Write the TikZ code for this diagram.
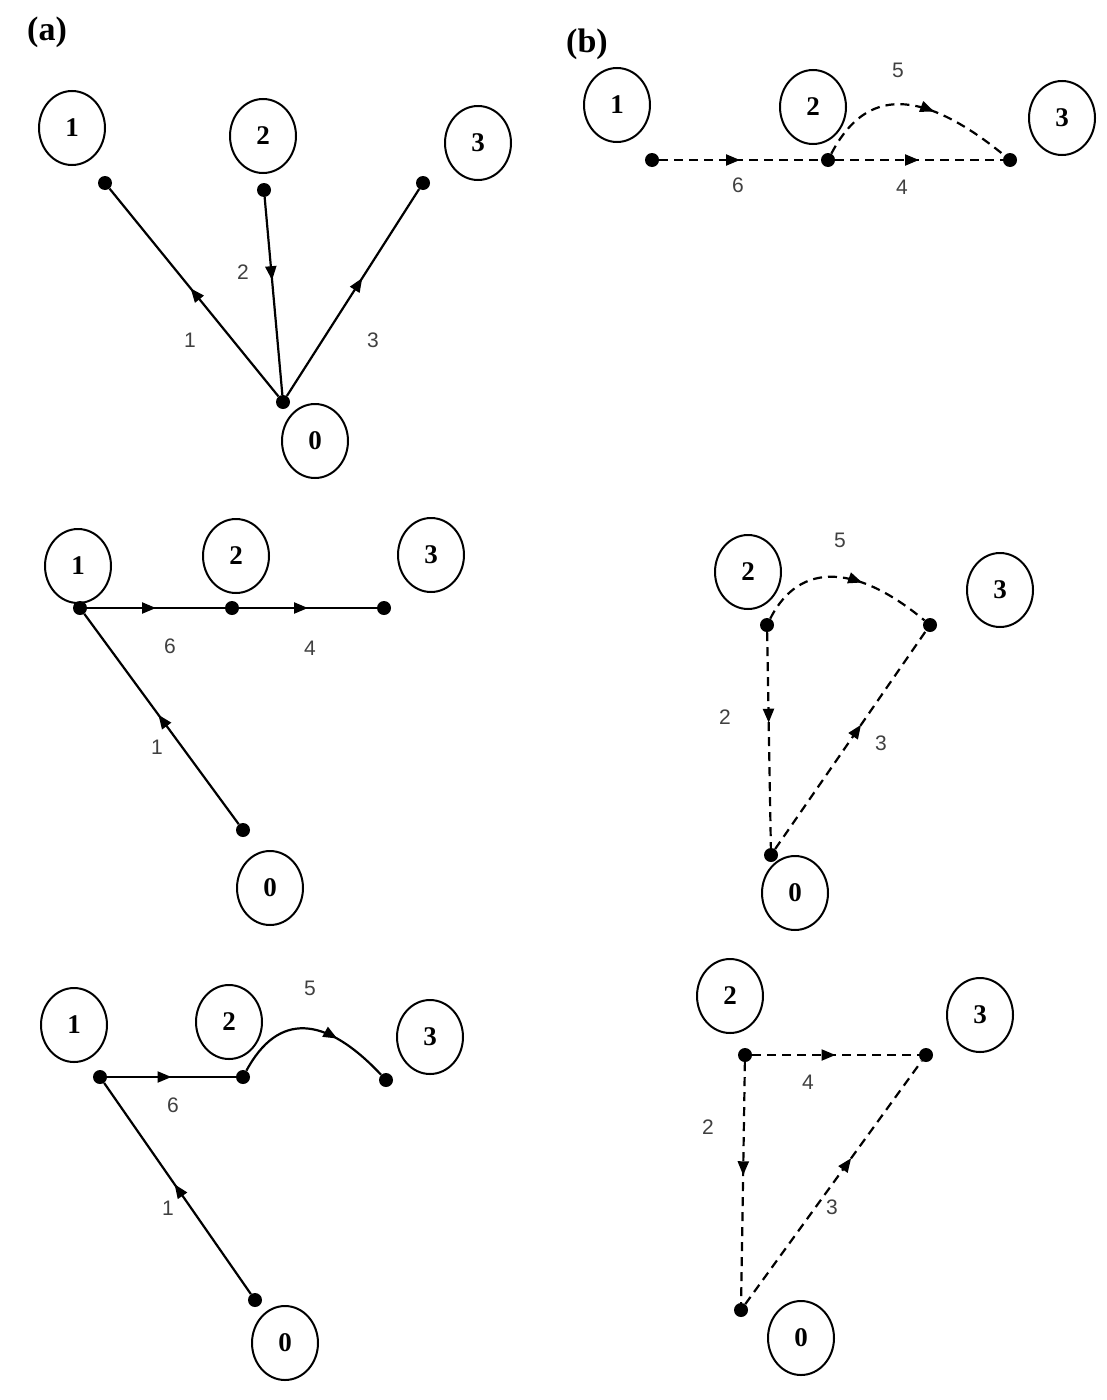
\documentclass[tikz,border=0pt]{standalone}
\usepackage{fontspec}
\setmainfont{Liberation Serif}
\newfontfamily\lblfont{Liberation Sans}
\usetikzlibrary{shapes.geometric,decorations.markings,arrows.meta}
\begin{document}
\begin{tikzpicture}[x=1pt,y=-1pt,
  state/.style={draw,line width=2pt,ellipse,minimum width=66pt,minimum height=74pt,inner sep=0pt,font=\fontsize{27}{27}\selectfont\bfseries},
  dot/.style={circle,fill=black,minimum size=14pt,inner sep=0pt},
  edge/.style={line width=2.2pt},
  dashedge/.style={line width=2.2pt,dash pattern=on 9pt off 6pt},
  lbl/.style={font=\lblfont\fontsize{21}{21}\selectfont,text=black!75,inner sep=0pt},
  midarr/.style={postaction={decorate},decoration={markings,mark=at position #1 with {\arrow{Triangle[length=14pt,width=11pt]}}}},
  panel/.style={font=\fontsize{34}{34}\selectfont\bfseries,inner sep=0pt}]
\fill[white] (0,0) rectangle (1107,1400);
\useasboundingbox (0,0) rectangle (1107,1400);

% ---------- (a) top ----------
\node[panel] (pa) at (47,32) {(a)};
\node[state] (A1c1) at (72,128) {1};
\node[state] (A1c2) at (263,136) {2};
\node[state] (A1c3) at (478,143) {3};
\node[state] (A1c0) at (315,441) {0};
\node[dot] (A1d1) at (105,183) {};
\node[dot] (A1d2) at (264,190) {};
\node[dot] (A1d3) at (423,183) {};
\node[dot] (A1d0) at (283,402) {};
\draw[edge,midarr=0.52] (A1d0) -- (A1d1);
\draw[edge,midarr=0.42] (A1d2) -- (A1d0);
\draw[edge,midarr=0.57] (A1d0) -- (A1d3);
\node[lbl] (A1l1) at (190,340) {1};
\node[lbl] (A1l2) at (243,272) {2};
\node[lbl] (A1l3) at (373,340) {3};

% ---------- (b) top ----------
\node[panel] (pb) at (587,44) {(b)};
\node[state] (B1c1) at (617,105) {1};
\node[state] (B1c2) at (813,107) {2};
\node[state] (B1c3) at (1062,118) {3};
\node[dot] (B1d1) at (652,160) {};
\node[dot] (B1d2) at (828,160) {};
\node[dot] (B1d3) at (1010,160) {};
\draw[dashedge,midarr=0.5] (B1d1) -- (B1d2);
\draw[dashedge,midarr=0.5] (B1d2) -- (B1d3);
\draw[dashedge,midarr=0.6] (B1d2) .. controls +(34,-65) and +(-98,-80) .. (B1d3);
\node[lbl] (B1l6) at (738,185) {6};
\node[lbl] (B1l4) at (902,187) {4};
\node[lbl] (B1l5) at (898,70) {5};

% ---------- (a) middle ----------
\node[state] (A2c1) at (78,566) {1};
\node[state] (A2c2) at (236,556) {2};
\node[state] (A2c3) at (431,555) {3};
\node[state] (A2c0) at (270,888) {0};
\node[dot] (A2d1) at (80,608) {};
\node[dot] (A2d2) at (232,608) {};
\node[dot] (A2d3) at (384,608) {};
\node[dot] (A2d0) at (243,830) {};
\draw[edge,midarr=0.5] (A2d1) -- (A2d2);
\draw[edge,midarr=0.5] (A2d2) -- (A2d3);
\draw[edge,midarr=0.52] (A2d0) -- (A2d1);
\node[lbl] (A2l6) at (170,646) {6};
\node[lbl] (A2l4) at (310,648) {4};
\node[lbl] (A2l1) at (157,747) {1};

% ---------- (b) middle ----------
\node[state] (B2c2) at (748,572) {2};
\node[state] (B2c3) at (1000,590) {3};
\node[state] (B2c0) at (795,893) {0};
\node[dot] (B2d2) at (767,625) {};
\node[dot] (B2d3) at (930,625) {};
\node[dot] (B2d0) at (771,855) {};
\draw[dashedge,midarr=0.6] (B2d2) .. controls +(33,-65) and +(-72,-60) .. (B2d3);
\draw[dashedge,midarr=0.42] (B2d2) -- (B2d0);
\draw[dashedge,midarr=0.57] (B2d0) -- (B2d3);
\node[lbl] (B2l5) at (840,540) {5};
\node[lbl] (B2l2) at (725,717) {2};
\node[lbl] (B2l3) at (881,743) {3};

% ---------- (a) bottom ----------
\node[state] (A3c1) at (74,1025) {1};
\node[state] (A3c2) at (229,1022) {2};
\node[state] (A3c3) at (430,1037) {3};
\node[state] (A3c0) at (285,1343) {0};
\node[dot] (A3d1) at (100,1077) {};
\node[dot] (A3d2) at (243,1077) {};
\node[dot] (A3d3) at (386,1080) {};
\node[dot] (A3d0) at (255,1300) {};
\draw[edge,midarr=0.5] (A3d1) -- (A3d2);
\draw[edge,midarr=0.66] (A3d2) .. controls +(35,-65) and +(-61,-65) .. (A3d3);
\draw[edge,midarr=0.52] (A3d0) -- (A3d1);
\node[lbl] (A3l6) at (173,1105) {6};
\node[lbl] (A3l5) at (310,988) {5};
\node[lbl] (A3l1) at (168,1208) {1};

% ---------- (b) bottom ----------
\node[state] (B3c2) at (730,996) {2};
\node[state] (B3c3) at (980,1015) {3};
\node[state] (B3c0) at (801,1338) {0};
\node[dot] (B3d2) at (745,1055) {};
\node[dot] (B3d3) at (926,1055) {};
\node[dot] (B3d0) at (741,1310) {};
\draw[dashedge,midarr=0.5] (B3d2) -- (B3d3);
\draw[dashedge,midarr=0.47] (B3d2) -- (B3d0);
\draw[dashedge,midarr=0.6] (B3d0) -- (B3d3);
\node[lbl] (B3l4) at (808,1082) {4};
\node[lbl] (B3l2) at (708,1127) {2};
\node[lbl] (B3l3) at (832,1207) {3};
\end{tikzpicture}
\end{document}
